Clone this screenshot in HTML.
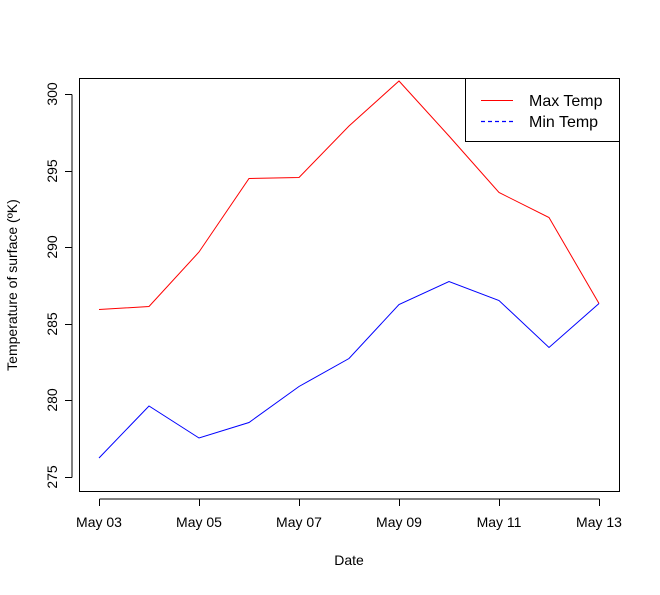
<!DOCTYPE html>
<html><head><meta charset="utf-8"><style>html,body{margin:0;padding:0;background:#fff}</style></head>
<body>
<svg width="660" height="590" viewBox="0 0 660 590" xmlns="http://www.w3.org/2000/svg" font-family="Liberation Sans, sans-serif" font-size="14">
<rect x="0" y="0" width="660" height="590" fill="#fff"/>
<rect x="79.5" y="78.5" width="540" height="413" fill="none" stroke="#000" stroke-width="1"/>
<g stroke="#000" stroke-width="1">
<line x1="72" y1="477.5" x2="72" y2="94.5"/>
<line x1="65" y1="477.5" x2="72" y2="477.5"/>
<line x1="65" y1="400.5" x2="72" y2="400.5"/>
<line x1="65" y1="324.5" x2="72" y2="324.5"/>
<line x1="65" y1="247.5" x2="72" y2="247.5"/>
<line x1="65" y1="171.5" x2="72" y2="171.5"/>
<line x1="65" y1="94.5" x2="72" y2="94.5"/>
</g>
<g text-anchor="middle">
<text transform="translate(57,477) rotate(-90)">275</text>
<text transform="translate(57,400) rotate(-90)">280</text>
<text transform="translate(57,324) rotate(-90)">285</text>
<text transform="translate(57,247) rotate(-90)">290</text>
<text transform="translate(57,171) rotate(-90)">295</text>
<text transform="translate(57,94) rotate(-90)">300</text>
<text transform="translate(17,285) rotate(-90)">Temperature of surface (ºK)</text>
</g>
<g stroke="#000" stroke-width="1">
<line x1="99.5" y1="499" x2="599.5" y2="499"/>
<line x1="99.5" y1="499" x2="99.5" y2="506"/>
<line x1="199.5" y1="499" x2="199.5" y2="506"/>
<line x1="299.5" y1="499" x2="299.5" y2="506"/>
<line x1="399.5" y1="499" x2="399.5" y2="506"/>
<line x1="499.5" y1="499" x2="499.5" y2="506"/>
<line x1="599.5" y1="499" x2="599.5" y2="506"/>
</g>
<g text-anchor="middle">
<text x="99" y="527">May 03</text>
<text x="199" y="527">May 05</text>
<text x="299" y="527">May 07</text>
<text x="399" y="527">May 09</text>
<text x="499" y="527">May 11</text>
<text x="599" y="527">May 13</text>
<text x="349" y="565">Date</text>
</g>
<polyline fill="none" stroke="#f00" stroke-width="1" points="99,309.5 149,306.5 199,252 249,178.5 299,177.5 349,126 399,81 449,136 499,192.5 549,217.5 599,303.5"/>
<polyline fill="none" stroke="#00f" stroke-width="1" points="99,458 149,406 199,438 249,422.5 299,386.5 349,358.5 399,304.5 449,281.5 499,300.5 549,347.5 599,303.5"/>
<rect x="465.5" y="78.5" width="154" height="63" fill="#fff" stroke="#000"/>
<line x1="481" y1="100.5" x2="513" y2="100.5" stroke="#f00"/>
<line x1="481" y1="121.5" x2="513" y2="121.5" stroke="#00f" stroke-width="1.2" stroke-dasharray="4,3"/>
<text x="529" y="106" font-size="16">Max Temp</text>
<text x="529" y="127" font-size="16">Min Temp</text>
</svg>
</body></html>
